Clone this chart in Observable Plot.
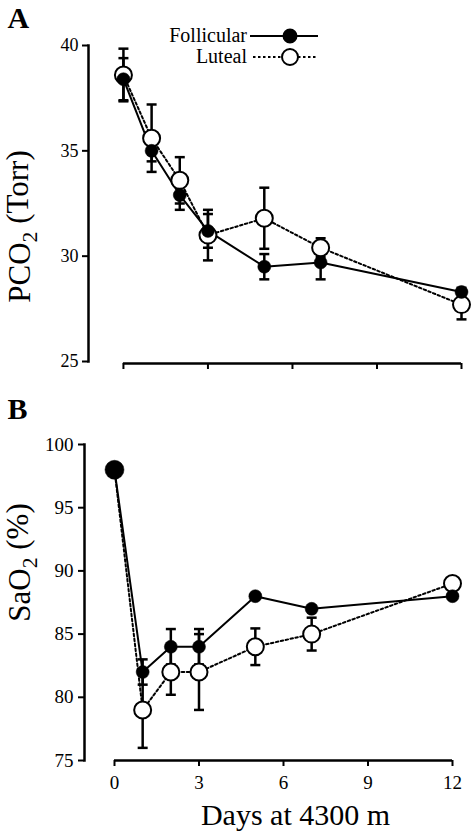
<!DOCTYPE html>
<html>
<head>
<meta charset="utf-8">
<script src="https://cdn.jsdelivr.net/npm/d3@7"></script>
<script src="https://cdn.jsdelivr.net/npm/@observablehq/plot@0.6"></script>
<style>
  html, body { margin: 0; padding: 0; background: #fff; }
  #chart { width: 474px; position: relative; }
  #chart svg { display: block; overflow: visible; }
</style>
</head>
<body>
<div id="chart"></div>
<script>
// ---- data ----
const days = [0, 1, 2, 3, 5, 7, 12];
const xTicks = [0, 3, 6, 9, 12];
const seriesNames = ["Follicular", "Luteal"];

// Panel A: PCO2 (Torr)
const pco2Fol   = [38.4, 35.0, 32.9, 31.2, 29.5, 29.7, 28.3];
const pco2FolSE = [1.0, 0.5, 0.7, 0.8, 0.6, 0.8, 0.2];
const pco2Lut   = [38.6, 35.6, 33.6, 31.0, 31.8, 30.4, 27.7];
const pco2LutSE = [1.25, 1.6, 1.1, 1.2, 1.45, 0.45, 0.7];
const pco2Ticks = [25, 30, 35, 40];

// Panel B: SaO2 (%)
const sao2Fol   = [98, 82, 84, 84, 88, 87, 88];
const sao2FolSE = [0, 1.0, 1.4, 1.4, 0, 0, 0];
const sao2Lut   = [98, 79, 82, 82, 84, 85, 89];
const sao2LutSE = [0, 3.0, 1.8, 3.0, 1.45, 1.3, 0];
const sao2Ticks = [75, 80, 85, 90, 95, 100];

const panelLabels = ["A", "B"];
const yLabelA = ["PCO", "2", " (Torr)"];
const yLabelB = ["SaO", "2", " (%)"];
const xLabel = "Days at 4300 m";

// ---- helpers ----
const FONT = "'Liberation Serif', 'Times New Roman', serif";
const capSymbol = {
  draw(ctx, size) {
    const w = Math.sqrt(size / Math.PI);
    ctx.moveTo(-w, 0);
    ctx.lineTo(w, 0);
  }
};

function rows(fol, folSE, lut, lutSE) {
  return [
    ...days.map((day, i) => ({series: seriesNames[0], day, value: fol[i], se: folSE[i]})),
    ...days.map((day, i) => ({series: seriesNames[1], day, value: lut[i], se: lutSE[i]}))
  ];
}

// bigBaseline: baseline (day 0) values coincide and are drawn as one large filled dot
function seriesMarks(data, bigBaseline) {
  const err = data.filter(d => d.se > 0);
  const fol = data.filter(d => d.series === seriesNames[0]);
  const lut = data.filter(d => d.series === seriesNames[1]);
  const lutDots = bigBaseline ? lut.filter(d => d.day !== days[0]) : lut;
  const folDots = bigBaseline ? fol.filter(d => d.day !== days[0]) : fol;
  const baseDots = bigBaseline ? fol.filter(d => d.day === days[0]) : [];
  return [
    Plot.ruleX(err, {x: "day", y1: d => d.value - d.se, y2: d => d.value + d.se, stroke: "black", strokeWidth: 2.5}),
    Plot.dot(err, {x: "day", y: d => d.value + d.se, symbol: capSymbol, r: 5, fill: "none", stroke: "black", strokeWidth: 2.5}),
    Plot.dot(err, {x: "day", y: d => d.value - d.se, symbol: capSymbol, r: 5, fill: "none", stroke: "black", strokeWidth: 2.5}),
    Plot.line(lut, {x: "day", y: "value", stroke: "black", strokeWidth: 2, strokeDasharray: "2.5,2.5"}),
    Plot.line(fol, {x: "day", y: "value", stroke: "black", strokeWidth: 2}),
    Plot.dot(lutDots, {x: "day", y: "value", r: 8.5, fill: "white", stroke: "black", strokeWidth: 2}),
    Plot.dot(folDots, {x: "day", y: "value", r: 6.5, fill: "black", stroke: "black", strokeWidth: 0.5}),
    Plot.dot(baseDots, {x: "day", y: "value", r: 9.5, fill: "black", stroke: "black", strokeWidth: 0.5})
  ];
}

function addSubscript(svg, parts) {
  const full = parts.join("");
  d3.select(svg).selectAll("text")
    .filter(function() { return this.textContent === full; })
    .each(function() {
      const el = d3.select(this);
      el.text(null);
      el.append("tspan").text(parts[0]);
      el.append("tspan").attr("dy", "0.3em").attr("font-size", "70%").text(parts[1]);
      el.append("tspan").attr("dy", "-0.3em").text(parts[2]);
    });
}

// ---- Panel A ----
const dataA = rows(pco2Fol, pco2FolSE, pco2Lut, pco2LutSE);
const svgA = Plot.plot({
  width: 474, height: 385,
  marginTop: 45, marginBottom: 24, marginLeft: 88, marginRight: 13,
  style: {fontFamily: FONT, fontSize: "18px", color: "black", background: "white"},
  x: {domain: [-1.24, 12], axis: null},
  y: {domain: [pco2Ticks[0], pco2Ticks[pco2Ticks.length - 1]], axis: null},
  marks: [
    Plot.frame({anchor: "left", stroke: "black", strokeWidth: 2.5}),
    Plot.axisY({ticks: pco2Ticks, tickSize: 6, tickPadding: 4, strokeWidth: 2, fontSize: 18, label: null}),
    Plot.ruleY([pco2Ticks[0]], {x1: xTicks[0], x2: xTicks[xTicks.length - 1], stroke: "black", strokeWidth: 2.5, dy: 2}),
    Plot.axisX({ticks: xTicks, tickSize: 6, tickFormat: () => "", strokeWidth: 2, dy: 2, label: null}),
    ...seriesMarks(dataA, false),
    Plot.text([panelLabels[0]], {frameAnchor: "top-left", dx: -81, dy: -18, lineAnchor: "bottom", textAnchor: "start", fontSize: 30, fontWeight: "bold"}),
    Plot.text([yLabelA.join("")], {frameAnchor: "left", dx: -68, dy: 23, rotate: -90, textAnchor: "middle", lineAnchor: "middle", fontSize: 31})
  ]
});
addSubscript(svgA, yLabelA);

// Legend (drawn into panel A svg)
{
  const g = d3.select(svgA).append("g").attr("font-family", FONT).attr("font-size", 20);
  const items = [
    {name: seriesNames[0], y: 36, dash: null, fill: "black", r: 6.5, x1: 250},
    {name: seriesNames[1], y: 57, dash: "2.5,2.5", fill: "white", r: 8, x1: 253}
  ];
  for (const it of items) {
    g.append("text").attr("x", 247).attr("y", it.y + 6).attr("text-anchor", "end").text(it.name);
    g.append("line").attr("x1", it.x1).attr("x2", 318).attr("y1", it.y).attr("y2", it.y)
      .attr("stroke", "black").attr("stroke-width", 2).attr("stroke-dasharray", it.dash);
    g.append("circle").attr("cx", 290).attr("cy", it.y).attr("r", it.r)
      .attr("fill", it.fill).attr("stroke", "black").attr("stroke-width", 2);
  }
}

// ---- Panel B ----
const dataB = rows(sao2Fol, sao2FolSE, sao2Lut, sao2LutSE);
const svgB = Plot.plot({
  width: 474, height: 447,
  marginTop: 59, marginBottom: 72, marginLeft: 84, marginRight: 22,
  style: {fontFamily: FONT, fontSize: "19px", color: "black", background: "white"},
  x: {domain: [-1.065, 12], axis: null},
  y: {domain: [sao2Ticks[0], sao2Ticks[sao2Ticks.length - 1]], axis: null},
  marks: [
    Plot.frame({anchor: "left", stroke: "black", strokeWidth: 2.5}),
    Plot.axisY({ticks: sao2Ticks, tickSize: 6, tickPadding: 5, strokeWidth: 2, fontSize: 19, label: null}),
    Plot.ruleY([sao2Ticks[0]], {x1: xTicks[0], x2: xTicks[xTicks.length - 1], stroke: "black", strokeWidth: 2.5}),
    Plot.axisX({ticks: xTicks, tickSize: 6, tickPadding: 9, strokeWidth: 2, fontSize: 19, label: null}),
    ...seriesMarks(dataB, true),
    Plot.text([panelLabels[1]], {frameAnchor: "top-left", dx: -77, dy: -26, lineAnchor: "bottom", textAnchor: "start", fontSize: 30, fontWeight: "bold"}),
    Plot.text([yLabelB.join("")], {frameAnchor: "left", dx: -64, dy: -40, rotate: -90, textAnchor: "middle", lineAnchor: "middle", fontSize: 31}),
    Plot.text([xLabel], {frameAnchor: "bottom", dx: 27, dy: 64, lineAnchor: "bottom", textAnchor: "middle", fontSize: 30})
  ]
});
addSubscript(svgB, yLabelB);

document.getElementById("chart").append(svgA, svgB);
</script>
</body>
</html>
